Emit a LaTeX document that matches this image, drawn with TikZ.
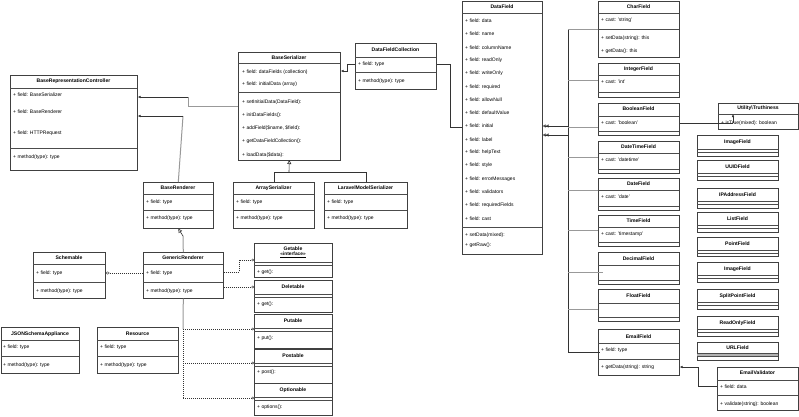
\documentclass[tikz,border=0pt]{standalone}
\usepackage{fontspec}
\setmainfont{Liberation Sans}
\usetikzlibrary{arrows.meta}
\tikzset{
 ubox/.style={draw=black!75,line width=0.6pt,anchor=north west,inner sep=0pt,fill=white},
 sepl/.style={draw=black!70,line width=0.5pt},
 ft/.style={anchor=west,inner sep=0pt,font=\fontsize{5}{6}\selectfont},
 ftb/.style={inner sep=0pt,font=\fontsize{5.1}{6}\selectfont\bfseries},
 con/.style={draw=black!80,line width=0.6pt},
 gcon/.style={draw=black!40,line width=1pt},
 dcon/.style={draw=black!80,line width=0.4pt,dash pattern=on 1pt off 1pt},
 farr/.style={-{Latex[length=3pt,width=2.6pt]}},
 tarr/.style={-{Triangle[open,length=4pt,width=4pt]}},
 darr/.style={-{Diamond[open,length=4pt,width=3pt]}},
 carr/.style={-{Circle[open,length=2.6pt]}},
 warr/.style={-{Triangle[open,length=3pt,width=3pt]Triangle[open,length=3pt,width=3pt]}},
}
\newcommand\cls[7]{%
 \node[ubox,minimum width={#4pt-#2pt},minimum height={#5pt-#3pt}] (#1) at (#2,#3) {};
 \node[ftb] at ({(#2+#4)/2},#7) {#6};}
\newcommand\sepr[3]{\draw[sepl] (#1,#3) -- (#2,#3);}
\newcommand\dsep[3]{\draw[sepl] (#1,#3) -- (#2,#3); \draw[sepl] (#1,#3+3) -- (#2,#3+3);}
\newcommand\tx[3]{\node[ft] at (#1,#2) {#3};}
\begin{document}
\begin{tikzpicture}[x=1pt,y=-1pt]
\useasboundingbox[fill=white] (0,0) rectangle (799,416);

% ---------- left classes ----------
\cls{BaseRepresentationController}{10}{75}{137}{170}{BaseRepresentationController}{81}
\sepr{10}{137}{88}\tx{13}{95}{+ field: BaseSerializer}\tx{13}{112}{+ field: BaseRenderer}
\tx{13}{133}{+ field: HTTPRequest}\sepr{10}{137}{148}\tx{13}{157}{+ method(type): type}

\cls{BaseSerializer}{238}{52}{340}{160}{BaseSerializer}{58}
\sepr{238}{340}{63}\tx{242}{72}{+ field: dataFields (collection)}\tx{242}{84}{+ field: initialData (array)}
\sepr{238}{340}{92}\tx{242}{102}{+ setInitialData(DataField):}\tx{242}{115}{+ initDataFields():}
\tx{242}{128}{+ addField(\$name, \$field):}\tx{242}{141}{+ getDataFieldCollection():}\tx{242}{155}{+ loadData(\$data):}

\cls{DataFieldCollection}{355}{43}{436}{89}{DataFieldCollection}{50}
\sepr{355}{436}{57}\tx{358}{64}{+ field: type}\sepr{355}{436}{72}\tx{358}{81}{+ method(type): type}

\cls{BaseRenderer}{143}{182}{213}{228}{BaseRenderer}{188}
\sepr{143}{213}{194}\tx{146}{202}{+ field: type}\sepr{143}{213}{210}\tx{146}{218}{+ method(type): type}
\cls{ArraySerializer}{233}{182}{314}{228}{ArraySerializer}{188}
\sepr{233}{314}{194}\tx{236}{202}{+ field: type}\sepr{233}{314}{210}\tx{236}{218}{+ method(type): type}
\cls{LaravelModelSerializer}{324}{182}{407}{228}{LaravelModelSerializer}{188}
\sepr{324}{407}{194}\tx{327}{202}{+ field: type}\sepr{324}{407}{210}\tx{327}{218}{+ method(type): type}

\cls{GenericRenderer}{143}{252}{223}{298}{GenericRenderer}{258}
\sepr{143}{223}{264}\tx{146}{273}{+ field: type}\sepr{143}{223}{282}\tx{146}{291}{+ method(type): type}
\cls{Schemable}{33}{252}{105}{298}{Schemable}{258}
\sepr{33}{105}{264}\tx{36}{273}{+ field: type}\sepr{33}{105}{282}\tx{36}{291}{+ method(type): type}
\cls{JSONSchemaAppliance}{1}{327}{79}{373}{JSONSchemaAppliance}{334}
\sepr{1}{79}{340}\tx{3}{347}{+ field: type}\sepr{1}{79}{356}\tx{3}{365}{+ method(type): type}
\cls{Resource}{97}{327}{178}{373}{Resource}{334}
\sepr{97}{178}{340}\tx{100}{347}{+ field: type}\sepr{97}{178}{356}\tx{100}{365}{+ method(type): type}

\cls{Getable}{254}{243}{332}{277}{Getable}{249}
\node[ftb,font=\fontsize{4.8}{5}\selectfont\bfseries] at (293,255) {\underline{<<interface>>}};
\dsep{254}{332}{262}\tx{257}{272}{+ get():}
\cls{Deletable}{254}{280}{332}{312}{Deletable}{287}
\dsep{254}{332}{294}\tx{257}{304}{+ get():}
\cls{Putable}{254}{314}{332}{348}{Putable}{321}
\dsep{254}{332}{328}\tx{257}{338}{+ put():}
\cls{Postable}{254}{349}{332}{383}{Postable}{356}
\dsep{254}{332}{363}\tx{257}{372}{+ post():}
\cls{Optionable}{254}{383}{332}{415}{Optionable}{390}
\dsep{254}{332}{397}\tx{257}{407}{+ options():}

% ---------- DataField ----------
\cls{DataField}{462}{1}{542}{254}{DataField}{7}
\sepr{462}{542}{13}
\foreach \t [count=\i from 0] in {data,name,columnName,readOnly,writeOnly,required,allowNull,defaultValue,initial,label,helpText,style,errorMessages,validators,requiredFields,cast}
 \node[ft] at (465,{21+\i*13.15}) {+ field: \t};
\sepr{462}{542}{227}\tx{465}{235}{+ setData(mixed):}\tx{465}{245}{+ getRaw():}

% ---------- field subclasses ----------
\cls{CharField}{598}{1}{679}{57}{CharField}{7}
\sepr{598}{679}{13}\tx{601}{20}{+ cast: 'string'}\sepr{598}{679}{29}
\tx{601}{38}{+ setData(string): this}\tx{601}{51}{+ getData(): this}
\cls{IntegerField}{598}{63}{679}{97}{IntegerField}{69}
\sepr{598}{679}{75}\tx{601}{82}{+ cast: 'int'}\sepr{598}{679}{92}
\cls{BooleanField}{598}{103}{679}{135}{BooleanField}{109}
\sepr{598}{679}{116}\tx{601}{123}{+ cast: 'boolean'}\sepr{598}{679}{131}
\cls{DateTimeField}{598}{141}{679}{173}{DateTimeField}{147}
\sepr{598}{679}{153}\tx{601}{160}{+ cast: 'datetime'}\sepr{598}{679}{169}
\cls{DateField}{598}{178}{679}{210}{DateField}{184}
\sepr{598}{679}{190}\tx{601}{197}{+ cast: 'date'}\sepr{598}{679}{206}
\cls{TimeField}{598}{215}{679}{246}{TimeField}{221}
\sepr{598}{679}{227}\tx{601}{234}{+ cast: 'timestamp'}\sepr{598}{679}{242}
\cls{DecimalField}{598}{252}{679}{284}{DecimalField}{259}
\sepr{598}{679}{265}\sepr{598}{679}{280}
\cls{FloatField}{598}{289}{679}{321}{FloatField}{296}
\sepr{598}{679}{303}\sepr{598}{679}{317}
\cls{EmailField}{598}{329}{679}{375}{EmailField}{337}
\sepr{598}{679}{343}\tx{601}{350}{+ field: type}\sepr{598}{679}{359}\tx{601}{367}{+ getData(string): string}

\cls{UtilityTruthiness}{718}{103}{798}{129}{Utility\textbackslash Truthiness}{108}
\sepr{718}{798}{114}\tx{721}{123}{+ isTrue(mixed): boolean}

\cls{ImageFieldA}{697}{135}{778}{156}{ImageField}{142}\dsep{697}{778}{149}
\cls{UUIDField}{697}{160}{778}{180}{UUIDField}{167}\dsep{697}{778}{173}
\cls{IPAddressField}{697}{188}{778}{208}{IPAddressField}{195}\dsep{697}{778}{201}
\cls{ListField}{697}{212}{778}{232}{ListField}{219}\dsep{697}{778}{225}
\cls{PointField}{697}{237}{778}{256}{PointField}{244}\dsep{697}{778}{250}
\cls{ImageFieldB}{697}{262}{778}{282}{ImageField}{269}\dsep{697}{778}{275}
\cls{SplitPointField}{697}{289}{778}{309}{SplitPointField}{296}\dsep{697}{778}{302}
\cls{ReadOnlyField}{697}{316}{778}{336}{ReadOnlyField}{323}\dsep{697}{778}{329}
\cls{URLField}{697}{342}{778}{360}{URLField}{348}
\fill[black!30] (697,353) rectangle (778,356);\dsep{697}{778}{353}

\cls{EmailValidator}{717}{367}{798}{410}{EmailValidator}{373}
\sepr{717}{798}{380}\tx{720}{387}{+ field: data}\sepr{717}{798}{395}\tx{720}{404}{+ validate(string): boolean}

% ---------- connectors ----------
\draw[con,farr] (DataFieldCollection.west |- 0,64) -- (347,64) -- (347,71) -- (BaseSerializer.east |- 0,71);
\draw[con] (DataFieldCollection.east |- 0,64) -- (450,64) -- (450,127) -- (DataField.west |- 0,127);
\draw[gcon] (BaseSerializer.west |- 0,106) -- (188,106) -- (188,97);
\draw[con,farr] (188,97) -- (BaseRepresentationController.east |- 0,97);
\draw[gcon] (BaseRenderer.north) -- (183,116);
\draw[con,farr] (183,116) -- (BaseRepresentationController.east |- 0,116);
\draw[con] (ArraySerializer.north) -- (ArraySerializer.north |- 0,172) -- (LaravelModelSerializer.north |- 0,172) -- (LaravelModelSerializer.north);
\draw[con,tarr] (289,172) -- (BaseSerializer.south |- 0,160);
\draw[gcon] (GenericRenderer.north) -- (183,236);
\draw[con,tarr] (183,236) -- (BaseRenderer.south);
\draw[dcon,darr] (GenericRenderer.west |- 0,273) -- (Schemable.east |- 0,273);
\draw[dcon,carr] (GenericRenderer.east |- 0,272) -- (239,272) -- (239,260) -- (Getable.west |- 0,260);
\draw[dcon,carr] (GenericRenderer.east |- 0,287) -- (Deletable.west |- 0,287);
\draw[gcon] (GenericRenderer.south) -- (183,329);
\draw[dcon] (183,329) -- (183,398);
\draw[dcon,carr] (183,329) -- (Putable.west |- 0,329);
\draw[dcon,carr] (183,363) -- (Postable.west |- 0,363);
\draw[dcon,carr] (183,398) -- (Optionable.west |- 0,398);
\draw[con] (568,29) -- (568,352);
\draw[con,warr] (568,126) -- (DataField.east |- 0,126);
\draw[con,warr] (568,135) -- (DataField.east |- 0,135);
\draw[gcon] (568,29) -- (CharField.west |- 0,29);
\draw[gcon] (568,80) -- (IntegerField.west |- 0,80);
\draw[gcon] (568,127) -- (BooleanField.west |- 0,127);
\draw[gcon] (568,157) -- (DateTimeField.west |- 0,157);
\draw[gcon] (568,190) -- (DateField.west |- 0,190);
\draw[gcon] (568,230) -- (TimeField.west |- 0,230);
\draw[gcon] (568,272) -- (603,272);
\draw[gcon] (568,309) -- (FloatField.west |- 0,309);
\draw[con] (568,352) -- (600,352);
\draw[con] (BooleanField.east |- 0,123) -- (733,123);
\draw[con,farr] (733,123) -- (733,114);
\draw[con] (EmailValidator.west |- 0,386) -- (698,386) -- (698,367);
\draw[con,farr] (698,367) -- (EmailField.east |- 0,367);
\end{tikzpicture}
\end{document}
